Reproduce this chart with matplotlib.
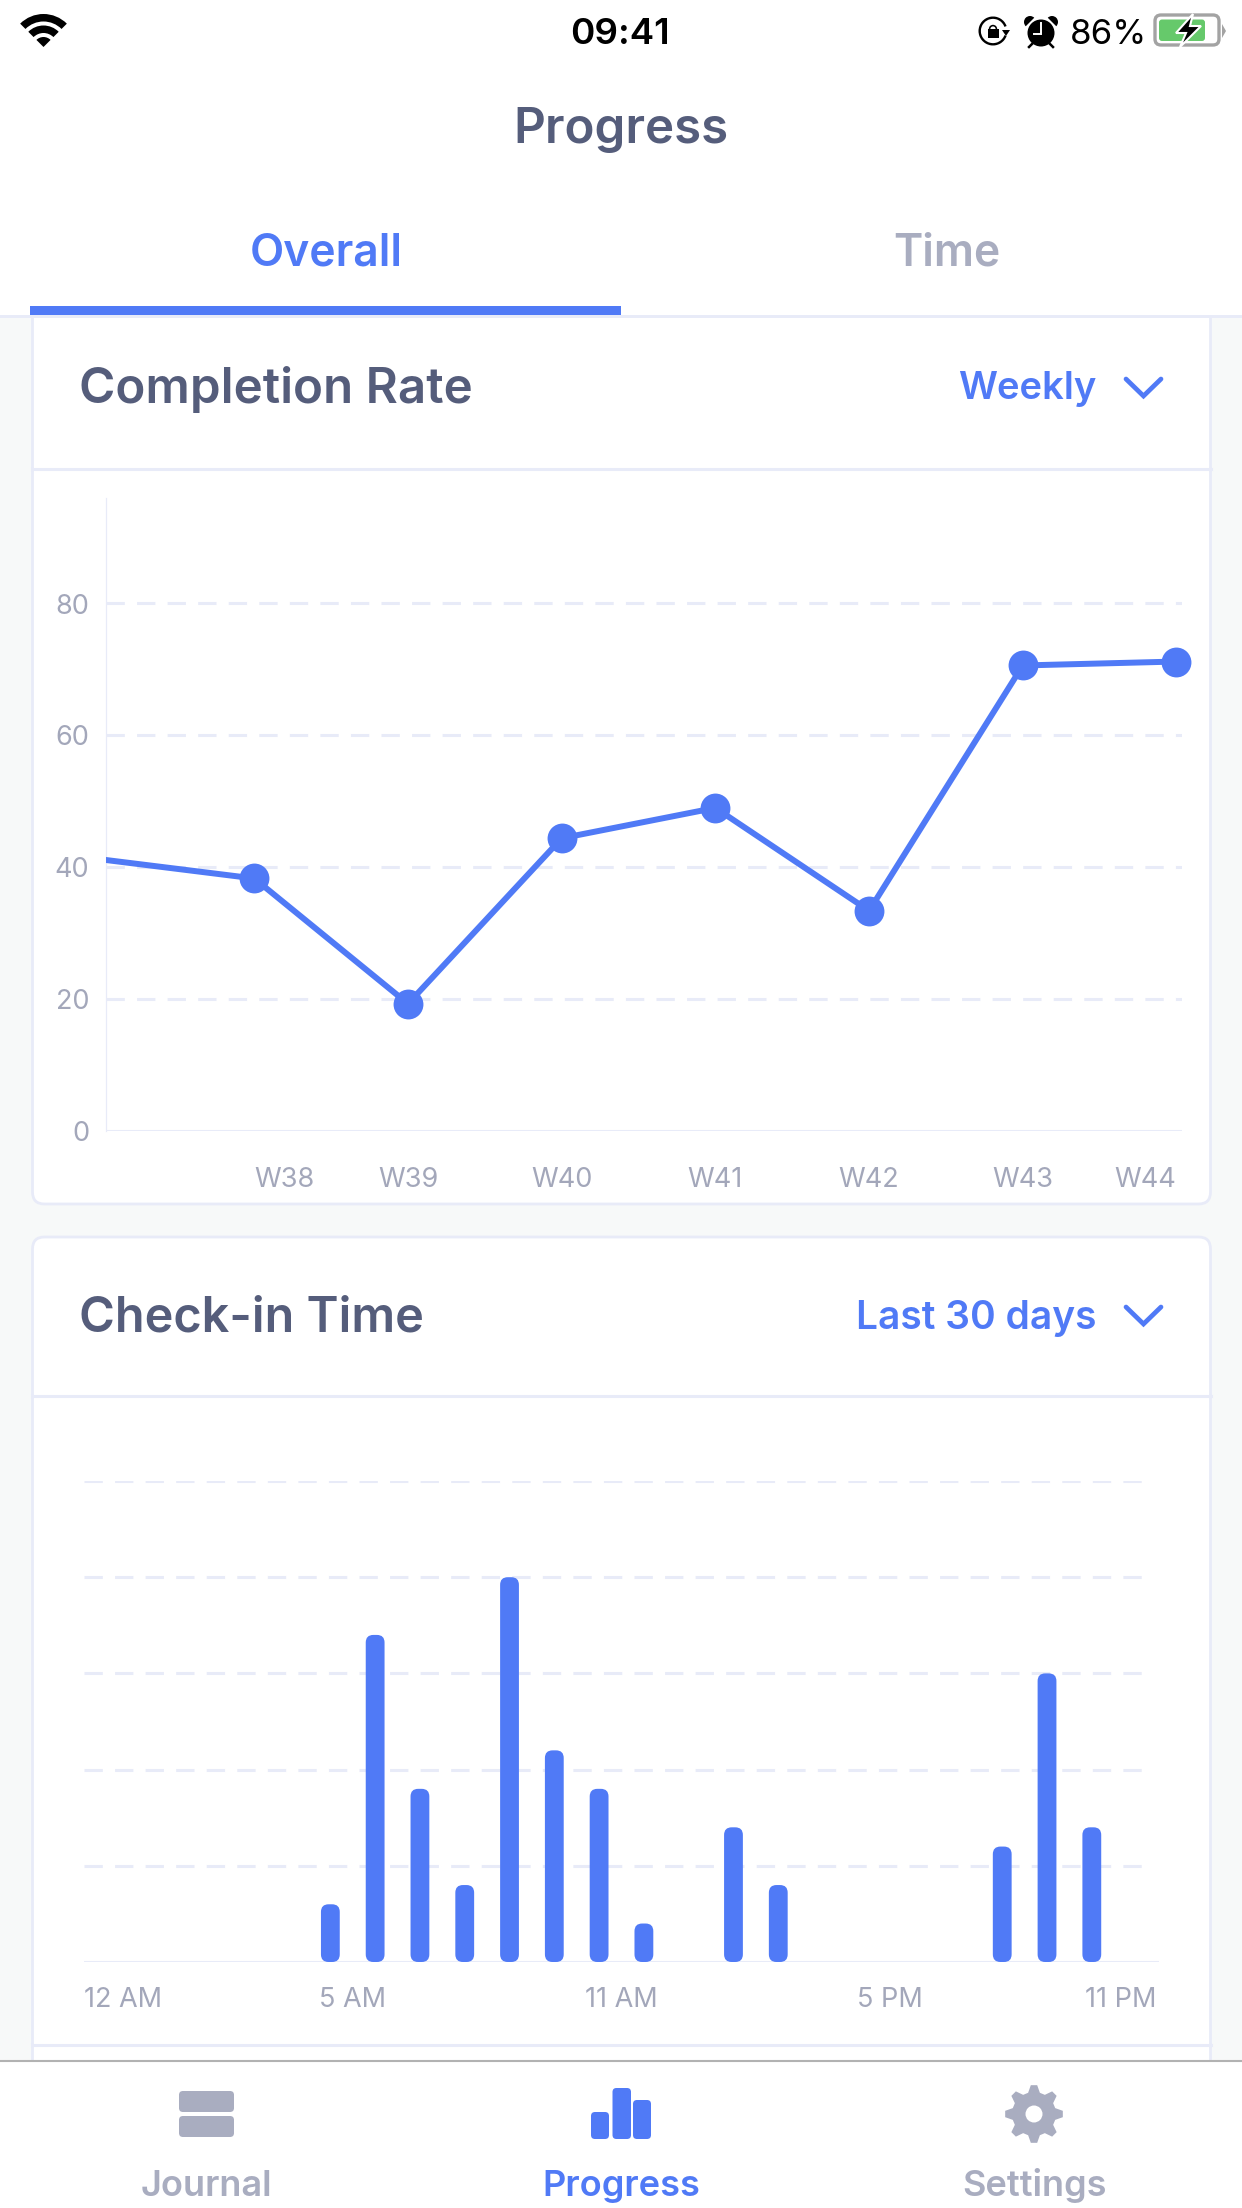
import matplotlib
matplotlib.use("Agg")
import matplotlib.pyplot as plt
from matplotlib.patches import FancyBboxPatch, Rectangle, Circle, Wedge, Polygon
import numpy as np

plt.rcParams['font.family'] = ['Inter', 'DejaVu Sans']

W, H = 1242, 2208
BLUE  = '#507AF6'
DARK  = '#555D7B'
GRAY  = '#A9ADC0'
TICK  = '#A3A7BA'
LINE  = '#E8EBF8'
BACK  = '#F7F9F9'

# completion rate chart
weeks       = ['W37', 'W38', 'W39', 'W40', 'W41', 'W42', 'W43', 'W44']
completion  = [41.2, 38.3, 19.3, 44.4, 49.0, 33.4, 70.6, 71.2]
rate_ticks  = [0, 20, 40, 60, 80]

# check-in time chart
hours       = [5, 6, 7, 8, 9, 10, 11, 12, 14, 15, 20, 21, 22]
checkins    = [3, 17, 9, 4, 20, 11, 9, 2, 7, 4, 6, 15, 7]
count_grid  = [5, 10, 15, 20, 25]
hour_ticks  = [-0.5, 5.5, 11.5, 17.5, 23.45]
hour_labels = ['12 AM', '5 AM', '11 AM', '5 PM', '11 PM']
hour_align  = ['left', 'center', 'center', 'center', 'right']

# tab bar
tab_names   = ['Journal', 'Progress', 'Settings']
tab_colors  = [GRAY, BLUE, GRAY]
tab_centers = [206, 621, 1034]


def px_axes(fig, x0, y0, x1, y1):
    # axes from pixel box, y measured from the top of the screen
    ax = fig.add_axes([x0 / W, 1 - y1 / H, (x1 - x0) / W, (y1 - y0) / H])
    ax.patch.set_alpha(0)
    for s in ax.spines.values():
        s.set_visible(False)
    return ax


def rrect(ax, x0, y0, x1, y1, r, **kw):
    p = FancyBboxPatch((x0, y0), x1 - x0, y1 - y0,
                       boxstyle="round,pad=0,rounding_size=%g" % r, **kw)
    ax.add_patch(p)
    return p


def chevron(ax, y0, y1):
    ax.plot([1126, 1143.5, 1161], [y0, y1, y0], color=BLUE, lw=3.4,
            solid_capstyle='round', solid_joinstyle='miter')


def draw_status(ax):
    for r, w in [(33, 7.5), (21.5, 7.5)]:
        ax.add_patch(Wedge((43.5, 47), r, -135, -45, width=w, color='black', lw=0))
    ax.add_patch(Wedge((43.5, 47), 10, -135, -45, color='black', lw=0))
    ax.text(620, 44, '09:41', fontsize=26.5, fontweight='semibold', color='black',
            ha='center', va='baseline')

    # rotation lock
    ax.add_patch(Wedge((993, 31), 14.5, 20, 340, width=2.4, color='black', lw=0))
    ax.add_patch(Polygon([(1002, 30), (1010, 30), (1006, 36)], color='black', lw=0))
    ax.add_patch(Rectangle((987.5, 29), 11, 9, color='black', lw=0))
    ax.add_patch(Wedge((993, 29), 4.2, 180, 360, width=1.6, color='black', lw=0))

    # alarm
    ax.add_patch(Circle((1041, 33), 13.5, color='black', lw=0))
    ax.add_patch(Wedge((1030, 22), 6, 135, 315, color='black', lw=0))
    ax.add_patch(Wedge((1052, 22), 6, 225, 45, color='black', lw=0))
    ax.plot([1032, 1029], [44, 47], color='black', lw=1.8)
    ax.plot([1050, 1053], [44, 47], color='black', lw=1.8)
    ax.plot([1041, 1041, 1034], [23, 34, 34], color='white', lw=1.4,
            solid_joinstyle='miter')

    ax.text(1108, 44, '86%', fontsize=25, color='black', ha='center', va='baseline')

    # battery
    rrect(ax, 1155, 15, 1219, 45, 6, fc='white', ec='#A3A3A3', lw=2.4)
    rrect(ax, 1159, 19.5, 1205, 41, 3, fc='#66C96B', ec='none')
    ax.add_patch(Polygon([(1222, 24), (1226, 31), (1222, 38)], color='#A3A3A3', lw=0))
    bolt = np.array([[1193, 14], [1176, 33], [1186, 33], [1180, 47],
                     [1201, 26], [1190, 26]])
    ax.add_patch(Polygon(bolt, fc='black', ec='white', lw=1.5))


def draw_chrome(ax):
    ax.set_xlim(0, W)
    ax.set_ylim(H, 0)
    ax.axis('off')

    ax.add_patch(Rectangle((0, 0), W, H, color=BACK, lw=0))

    # cards
    rrect(ax, 32.5, 280, 1210.5, 1204, 12, fc='white', ec=LINE, lw=2)
    rrect(ax, 32.5, 1237, 1210.5, 2300, 12, fc='white', ec=LINE, lw=2)
    ax.plot([32, 1211], [469, 469], color=LINE, lw=2.2)
    ax.plot([32, 1211], [1396, 1396], color=LINE, lw=2.2)
    ax.plot([32, 1211], [2044.5, 2044.5], color=LINE, lw=2.2)

    # header
    ax.add_patch(Rectangle((0, 0), W, 315, color='white', lw=0))
    ax.add_patch(Rectangle((0, 315), W, 3, color=LINE, lw=0))
    ax.add_patch(Rectangle((30, 306), 591, 9, color=BLUE, lw=0))
    draw_status(ax)
    ax.text(621, 143, 'Progress', fontsize=35.5, fontweight='semibold', color=DARK,
            ha='center', va='baseline')
    ax.text(326, 265, 'Overall', fontsize=32, fontweight='semibold', color=BLUE,
            ha='center', va='baseline')
    ax.text(947, 265, 'Time', fontsize=32, fontweight='semibold', color=GRAY,
            ha='center', va='baseline')

    # card headers
    ax.text(79, 403, 'Completion Rate', fontsize=35.5, fontweight='semibold', color=DARK,
            ha='left', va='baseline')
    ax.text(1096, 399, 'Weekly', fontsize=27.5, fontweight='semibold', color=BLUE,
            ha='right', va='baseline')
    chevron(ax, 379, 396)
    ax.text(79, 1332, 'Check-in Time', fontsize=35, fontweight='semibold', color=DARK,
            ha='left', va='baseline')
    ax.text(1096, 1329, 'Last 30 days', fontsize=28, fontweight='semibold', color=BLUE,
            ha='right', va='baseline')
    chevron(ax, 1307, 1324)

    # tab bar
    ax.add_patch(Rectangle((0, 2061), W, H - 2061, color='white', lw=0))
    ax.plot([0, W], [2060.5, 2060.5], color='#B2B2B2', lw=1.5)
    for name, col, cx in zip(tab_names, tab_colors, tab_centers):
        ax.text(cx, 2196, name, fontsize=26, fontweight='semibold', color=col,
                ha='center', va='baseline')
    rrect(ax, 179, 2091, 234, 2112, 4, fc=GRAY, ec='none')
    rrect(ax, 179, 2116, 234, 2137, 4, fc=GRAY, ec='none')
    rrect(ax, 591, 2112, 609, 2139, 4, fc=BLUE, ec='none')
    rrect(ax, 612.5, 2088, 631, 2139, 4, fc=BLUE, ec='none')
    rrect(ax, 633, 2100, 651, 2139, 4, fc=BLUE, ec='none')

    # gear
    ang = np.linspace(0, 2 * np.pi, 8, endpoint=False) - np.pi / 2
    pts = []
    for a in ang:
        for da, r in [(-0.27, 22), (-0.11, 29), (0.11, 29), (0.27, 22)]:
            pts.append((1034 + r * np.cos(a + da), 2114 + r * np.sin(a + da)))
    ax.add_patch(Polygon(pts, color=GRAY, lw=0))
    ax.add_patch(Circle((1034, 2114), 8.5, color='white', lw=0))


def draw_rate(ax):
    x = np.arange(len(weeks))
    ax.set_xlim(0.035, 7.036)
    ax.set_ylim(0, 96)

    ax.hlines(rate_ticks[1:], 0.035, 7.036, color=LINE, lw=2.2,
              linestyles=(0, (6, 4)), zorder=1)
    ax.axhline(0, color=LINE, lw=2.2, zorder=1)
    ax.spines['left'].set_visible(True)
    ax.spines['left'].set_color(LINE)
    ax.spines['left'].set_linewidth(0.9)

    ax.plot(x, completion, color=BLUE, lw=4.3, zorder=3)
    ax.plot(x[1:], completion[1:], 'o', color=BLUE, ms=21.5, mew=0, clip_on=False, zorder=4)

    ax.set_yticks(rate_ticks)
    ax.set_xticks(x[1:])
    ax.set_xticklabels(weeks[1:])
    labels = ax.get_xticklabels()
    labels[0].set_ha('left')
    labels[-1].set_ha('right')
    ax.tick_params(axis='y', length=0, pad=12, labelsize=19.5, labelcolor=TICK)
    ax.tick_params(axis='x', length=0, pad=26, labelsize=19.5, labelcolor=TICK)


def draw_checkin(ax, box_w, box_h):
    ax.set_xlim(-0.5, 23.5)
    ax.set_ylim(0, 25)

    ax.hlines(count_grid, -0.5, 23.2, color=LINE, lw=2.2,
              linestyles=(0, (6, 4)), zorder=1)
    ax.axhline(0, color=LINE, lw=2.2, zorder=1)

    # rounded bars, aspect keeps the corners circular in pixels
    aspect = (box_w / 24.0) / (box_h / 25.0)
    for h, v in zip(hours, checkins):
        ax.add_patch(FancyBboxPatch((h - 0.21, 0), 0.42, v,
                                    boxstyle="round,pad=0,rounding_size=0.17",
                                    mutation_aspect=aspect, fc=BLUE, ec='none',
                                    clip_on=False, zorder=3))

    ax.set_yticks([])
    ax.set_xticks(hour_ticks)
    ax.set_xticklabels(hour_labels)
    for t, a in zip(ax.get_xticklabels(), hour_align):
        t.set_ha(a)
    ax.tick_params(axis='x', length=0, pad=18, labelsize=19.5, labelcolor=TICK)


def main():
    fig = plt.figure(figsize=(W / 100, H / 100), dpi=100, facecolor='white')
    bg = fig.add_axes([0, 0, 1, 1])
    draw_chrome(bg)
    draw_rate(px_axes(fig, 106, 498, 1182, 1131))
    draw_checkin(px_axes(fig, 84, 1481, 1159, 1962), 1075, 481)
    fig.savefig('out.png', dpi=100)


if __name__ == '__main__':
    main()
